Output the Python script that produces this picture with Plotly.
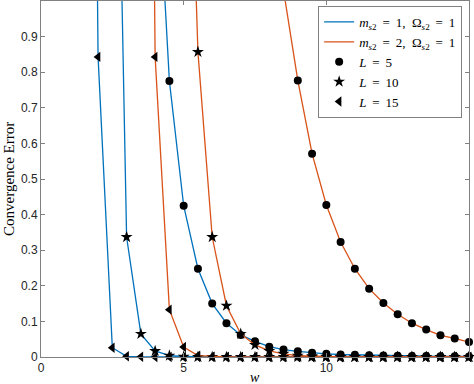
import plotly.graph_objects as go

# ---- data ----
x_b15 = [1.5, 2, 2.5, 3, 3.5, 4, 4.5, 5, 5.5, 6, 6.5, 7, 7.5, 8, 8.5, 9, 9.5, 10,
         10.5, 11, 11.5, 12, 12.5, 13, 13.5, 14, 14.5, 15]
y_b15 = [5.0, 0.843, 0.026, 0.002, 0.0005, 0, 0, 0, 0, 0, 0, 0, 0, 0, 0, 0, 0, 0,
         0, 0, 0, 0, 0, 0, 0, 0, 0, 0]

x_b10 = [2.5, 3, 3.5, 4, 4.5, 5, 5.5, 6, 6.5, 7, 7.5, 8, 8.5, 9, 9.5, 10,
         10.5, 11, 11.5, 12, 12.5, 13, 13.5, 14, 14.5, 15]
y_b10 = [2.4, 0.337, 0.065, 0.017, 0.004, 0.001, 0, 0, 0, 0, 0, 0, 0, 0, 0, 0,
         0, 0, 0, 0, 0, 0, 0, 0, 0, 0]

x_b5 = [4, 4.5, 5, 5.5, 6, 6.5, 7, 7.5, 8, 8.5, 9, 9.5, 10,
        10.5, 11, 11.5, 12, 12.5, 13, 13.5, 14, 14.5, 15]
y_b5 = [1.5, 0.775, 0.425, 0.248, 0.15, 0.095, 0.062, 0.044, 0.029, 0.021, 0.016,
        0.012, 0.009, 0.007, 0.006, 0.005, 0.004, 0.0035, 0.003, 0.0025, 0.002,
        0.002, 0.0015]

x_o15 = [3.5, 4, 4.5, 5, 5.5, 6, 6.5, 7, 7.5, 8, 8.5, 9, 9.5, 10,
         10.5, 11, 11.5, 12, 12.5, 13, 13.5, 14, 14.5, 15]
y_o15 = [5.0, 0.843, 0.133, 0.028, 0.004, 0.001, 0, 0, 0, 0, 0, 0, 0, 0,
         0, 0, 0, 0, 0, 0, 0, 0, 0, 0]

x_o10 = [5, 5.5, 6, 6.5, 7, 7.5, 8, 8.5, 9, 9.5, 10,
         10.5, 11, 11.5, 12, 12.5, 13, 13.5, 14, 14.5, 15]
y_o10 = [2.1, 0.857, 0.337, 0.144, 0.065, 0.034, 0.017, 0.009, 0.004, 0.002, 0.001,
         0, 0, 0, 0, 0, 0, 0, 0, 0, 0]

x_o5 = [8.5, 9, 9.5, 10, 10.5, 11, 11.5, 12, 12.5, 13, 13.5, 14, 14.5, 15]
y_o5 = [1.03, 0.777, 0.571, 0.427, 0.323, 0.248, 0.192, 0.152, 0.12, 0.095,
        0.077, 0.061, 0.052, 0.042]

x_ticks = [0, 5, 10, 15]
y_ticks = [0, 0.1, 0.2, 0.3, 0.4, 0.5, 0.6, 0.7, 0.8, 0.9]
y_ticklabels = ["0", "0.1", "0.2", "0.3", "0.4", "0.5", "0.6", "0.7", "0.8", "0.9"]

BLUE = "#0072BD"
ORANGE = "#D95319"
AXC = "#808080"
SERIF = "Liberation Serif, DejaVu Serif, serif"
EQ = "\u2009=\u2009"

series = [
    (x_b15, y_b15, BLUE, "triangle-left", 9),
    (x_b10, y_b10, BLUE, "star", 9),
    (x_b5, y_b5, BLUE, "circle", 8),
    (x_o15, y_o15, ORANGE, "triangle-left", 9),
    (x_o10, y_o10, ORANGE, "star", 9),
    (x_o5, y_o5, ORANGE, "circle", 8),
]

fig = go.Figure()
for xs, ys, col, sym, sz in series:
    fig.add_trace(go.Scatter(
        x=xs, y=ys, mode="lines+markers", showlegend=False,
        line=dict(color=col, width=1.3),
        marker=dict(symbol=sym, size=sz, color="black", line=dict(width=0)),
        cliponaxis=False,
    ))

# legend entries
fig.add_trace(go.Scatter(x=[None], y=[None], mode="lines",
                         line=dict(color=BLUE, width=1.3),
                         name=f"<i>m</i><sub><i>s</i>2</sub> {EQ} 1,  Ω<sub><i>s</i>2</sub> {EQ} 1"))
fig.add_trace(go.Scatter(x=[None], y=[None], mode="lines",
                         line=dict(color=ORANGE, width=1.3),
                         name=f"<i>m</i><sub><i>s</i>2</sub> {EQ} 2,  Ω<sub><i>s</i>2</sub> {EQ} 1"))
fig.add_trace(go.Scatter(x=[None], y=[None], mode="markers",
                         marker=dict(symbol="circle", size=8, color="black"),
                         name=f"<i>L</i> {EQ} 5"))
fig.add_trace(go.Scatter(x=[None], y=[None], mode="markers",
                         marker=dict(symbol="star", size=9, color="black"),
                         name=f"<i>L</i> {EQ} 10"))
fig.add_trace(go.Scatter(x=[None], y=[None], mode="markers",
                         marker=dict(symbol="triangle-left", size=9, color="black"),
                         name=f"<i>L</i> {EQ} 15"))

fig.update_layout(
    width=474, height=384,
    margin=dict(l=41, r=5, t=1, b=27, autoexpand=False),
    paper_bgcolor="white", plot_bgcolor="white",
    font=dict(family="Liberation Sans, Arial, sans-serif", size=12, color="#262626"),
    legend=dict(
        x=0.984, y=0.986, xanchor="right", yanchor="top",
        bgcolor="white", bordercolor=AXC, borderwidth=1,
        font=dict(family=SERIF, size=13, color="black"),
        tracegroupgap=0, itemwidth=30,
    ),
    xaxis=dict(
        range=[0, 15], tickvals=x_ticks, ticks="inside", ticklen=4,
        tickcolor=AXC, showline=True, linecolor=AXC, linewidth=1, mirror="ticks",
        showgrid=False, zeroline=False, automargin=False,
    ),
    yaxis=dict(
        range=[0, 1], tickvals=y_ticks, ticktext=y_ticklabels, ticks="inside",
        ticklen=4, tickcolor=AXC, showline=True, linecolor=AXC, linewidth=1,
        mirror="ticks", showgrid=False, zeroline=False, automargin=False,
    ),
    annotations=[
        dict(text="<i>w</i>", xref="paper", yref="paper", x=0.5, y=0,
             xanchor="center", yanchor="middle", yshift=-20, showarrow=False,
             font=dict(family=SERIF, size=14, color="black")),
        dict(text="Convergence Error", xref="paper", yref="paper", x=0, y=0.5,
             xanchor="center", yanchor="middle", xshift=-32, textangle=-90,
             showarrow=False, font=dict(family=SERIF, size=15, color="black")),
    ],
)

fig.write_html("out.html", config={"displayModeBar": False},
               post_script="document.body.style.margin='0';document.body.style.overflow='hidden';")
